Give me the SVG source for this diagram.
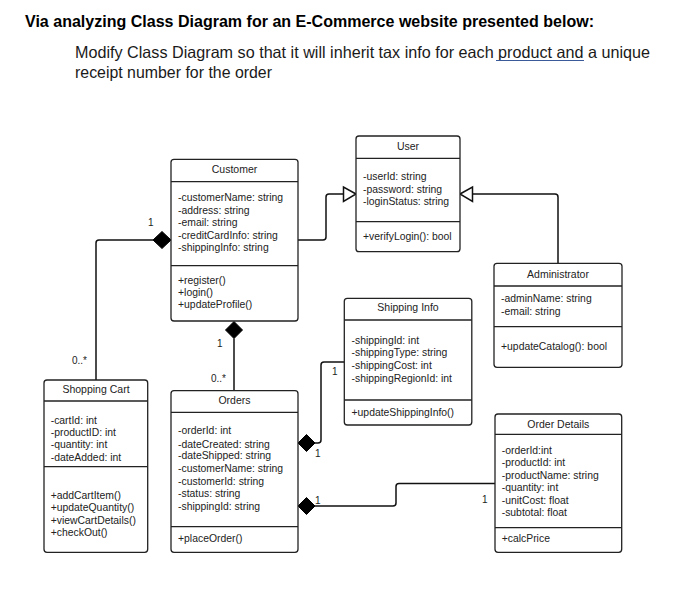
<svg xmlns="http://www.w3.org/2000/svg" width="698" height="594" viewBox="0 0 698 594">
<style>
.box{fill:#fff;stroke:#222;stroke-width:1.3}
.div{stroke:#222;stroke-width:1.3}
.t{font-family:"Liberation Sans",Arial,sans-serif;font-size:10.4px;fill:#222}
.h{font-family:"Liberation Sans",Arial,sans-serif;font-size:10.5px;fill:#222;text-anchor:middle}
.lbl{font-family:"Liberation Sans",Arial,sans-serif;font-size:10px;fill:#222}
.con{fill:none;stroke:#111;stroke-width:1.5}
.dia{fill:#000;stroke:#000;stroke-width:1}
.tri{fill:#fff;stroke:#111;stroke-width:1.5}
</style>
<rect width="698" height="594" fill="#fff"/>
<g id="title">
<text x="25" y="27" font-family="Liberation Sans,Arial,sans-serif" font-size="17" font-weight="bold" fill="#000" textLength="569" lengthAdjust="spacingAndGlyphs">Via analyzing Class Diagram for an E-Commerce website presented below:</text>
<text x="75" y="58" font-family="Liberation Sans,Arial,sans-serif" font-size="16.5" fill="#1a1a1a" textLength="575" lengthAdjust="spacingAndGlyphs">Modify Class Diagram so that it will inherit tax info for each product  and a unique</text>
<text x="75" y="78" font-family="Liberation Sans,Arial,sans-serif" font-size="16.5" fill="#1a1a1a" textLength="197" lengthAdjust="spacingAndGlyphs">receipt number for the order</text>
<line x1="496" y1="60.5" x2="584" y2="60.5" stroke="#3a5a9a" stroke-width="1.2"/>
</g>
<g id="connectors">
<path class="con" d="M153,240 H99 Q96,240 96,243 V380"/>
<path class="con" d="M298,240 H323 Q326,240 326,237 V197 Q326,194 329,194 H343.5"/>
<path class="con" d="M472.5,194 H555 Q558,194 558,197 V263.3"/>
<path class="con" d="M234,338.5 V390.7"/>
<path class="con" d="M315,443 H318 Q321,443 321,440 V365 Q321,362 324,362 H344.3"/>
<path class="con" d="M315,506 H393 Q396,506 396,503 V486.5 Q396,483.5 399,483.5 H495"/>
<polygon class="dia" points="171,240 162,231.5 153,240 162,248.5"/>
<polygon class="dia" points="234,321.5 242.5,330 234,338.5 225.5,330"/>
<polygon class="dia" points="298,443 306.5,434.5 315,443 306.5,451.5"/>
<polygon class="dia" points="298,506 306.5,497.5 315,506 306.5,514.5"/>
<polygon class="tri" points="356,194 343.5,187 343.5,201.5"/>
<polygon class="tri" points="460,194 472.5,187 472.5,201.5"/>
<text class="lbl" x="148" y="226">1</text>
<text class="lbl" x="72" y="364">0..*</text>
<text class="lbl" x="217" y="347">1</text>
<text class="lbl" x="211" y="382">0..*</text>
<text class="lbl" x="332" y="375">1</text>
<text class="lbl" x="315" y="457">1</text>
<text class="lbl" x="315" y="504">1</text>
<text class="lbl" x="482" y="503">1</text>
</g>
<g id="customer">
<rect class="box" x="171" y="159.3" width="127" height="161.7" rx="3"/>
<line class="div" x1="171" y1="181.7" x2="298" y2="181.7"/>
<line class="div" x1="171" y1="265.7" x2="298" y2="265.7"/>
<text class="h" x="234.5" y="172.8">Customer</text>
<text class="t" x="178" y="201.3">-customerName: string</text>
<text class="t" x="178" y="213.6">-address: string</text>
<text class="t" x="178" y="226.1">-email: string</text>
<text class="t" x="178" y="238.6">-creditCardInfo: string</text>
<text class="t" x="178" y="251">-shippingInfo: string</text>
<text class="t" x="178" y="283.6">+register()</text>
<text class="t" x="178" y="295.8">+login()</text>
<text class="t" x="178" y="307.9">+updateProfile()</text>
</g>
<g id="user">
<rect class="box" x="356" y="136" width="104" height="115.7" rx="3"/>
<line class="div" x1="356" y1="158.3" x2="460" y2="158.3"/>
<line class="div" x1="356" y1="221.7" x2="460" y2="221.7"/>
<text class="h" x="408" y="149.7">User</text>
<text class="t" x="363" y="180.3">-userId: string</text>
<text class="t" x="363" y="192.5">-password: string</text>
<text class="t" x="363" y="204.6">-loginStatus: string</text>
<text class="t" x="363" y="239.6">+verifyLogin(): bool</text>
</g>
<g id="administrator">
<rect class="box" x="494" y="263.3" width="128" height="104" rx="3"/>
<line class="div" x1="494" y1="286" x2="622" y2="286"/>
<line class="div" x1="494" y1="326.7" x2="622" y2="326.7"/>
<text class="h" x="558" y="277.6">Administrator</text>
<text class="t" x="501" y="301.9">-adminName: string</text>
<text class="t" x="501" y="315.2">-email: string</text>
<text class="t" x="501" y="350.3">+updateCatalog(): bool</text>
</g>
<g id="shipping-info">
<rect class="box" x="344.3" y="298.3" width="127.5" height="126.7" rx="3"/>
<line class="div" x1="344.3" y1="320" x2="471.8" y2="320"/>
<line class="div" x1="344.3" y1="400" x2="471.8" y2="400"/>
<text class="h" x="408" y="310.9">Shipping Info</text>
<text class="t" x="351.5" y="344.3">-shippingId: int</text>
<text class="t" x="351.5" y="356.4">-shippingType: string</text>
<text class="t" x="351.5" y="369.2">-shippingCost: int</text>
<text class="t" x="351.5" y="381.9">-shippingRegionId: int</text>
<text class="t" x="351.5" y="415.9">+updateShippingInfo()</text>
</g>
<g id="orders">
<rect class="box" x="171" y="390.7" width="127" height="161.6" rx="3"/>
<line class="div" x1="171" y1="412.3" x2="298" y2="412.3"/>
<line class="div" x1="171" y1="526.7" x2="298" y2="526.7"/>
<text class="h" x="234.5" y="403.6">Orders</text>
<text class="t" x="178" y="434.3">-orderId: int</text>
<text class="t" x="178" y="447.6">-dateCreated: string</text>
<text class="t" x="178" y="459.3">-dateShipped: string</text>
<text class="t" x="178" y="471.9">-customerName: string</text>
<text class="t" x="178" y="484.6">-customerId: string</text>
<text class="t" x="178" y="496.9">-status: string</text>
<text class="t" x="178" y="509.6">-shippingId: string</text>
<text class="t" x="178" y="541.9">+placeOrder()</text>
</g>
<g id="order-details">
<rect class="box" x="495" y="414" width="126.7" height="138.3" rx="3"/>
<line class="div" x1="495" y1="434.3" x2="621.7" y2="434.3"/>
<line class="div" x1="495" y1="527.7" x2="621.7" y2="527.7"/>
<text class="h" x="558.3" y="427.6">Order Details</text>
<text class="t" x="501.7" y="453.6">-orderId:int</text>
<text class="t" x="501.7" y="465.9">-productId: int</text>
<text class="t" x="501.7" y="478.6">-productName: string</text>
<text class="t" x="501.7" y="491.3">-quantity: int</text>
<text class="t" x="501.7" y="503.6">-unitCost: float</text>
<text class="t" x="501.7" y="515.9">-subtotal: float</text>
<text class="t" x="501.7" y="541.9">+calcPrice</text>
</g>
<g id="shopping-cart">
<rect class="box" x="44" y="380" width="103.7" height="172.3" rx="3"/>
<line class="div" x1="44" y1="401" x2="147.7" y2="401"/>
<line class="div" x1="44" y1="466.7" x2="147.7" y2="466.7"/>
<text class="h" x="96" y="392.6">Shopping Cart</text>
<text class="t" x="50.7" y="423.6">-cartId: int</text>
<text class="t" x="50.7" y="435.6">-productID: int</text>
<text class="t" x="50.7" y="447.9">-quantity: int</text>
<text class="t" x="50.7" y="460.6">-dateAdded: int</text>
<text class="t" x="50.7" y="498.6">+addCartItem()</text>
<text class="t" x="50.7" y="510.6">+updateQuantity()</text>
<text class="t" x="50.7" y="523.6">+viewCartDetails()</text>
<text class="t" x="50.7" y="535.9">+checkOut()</text>
</g>
</svg>
